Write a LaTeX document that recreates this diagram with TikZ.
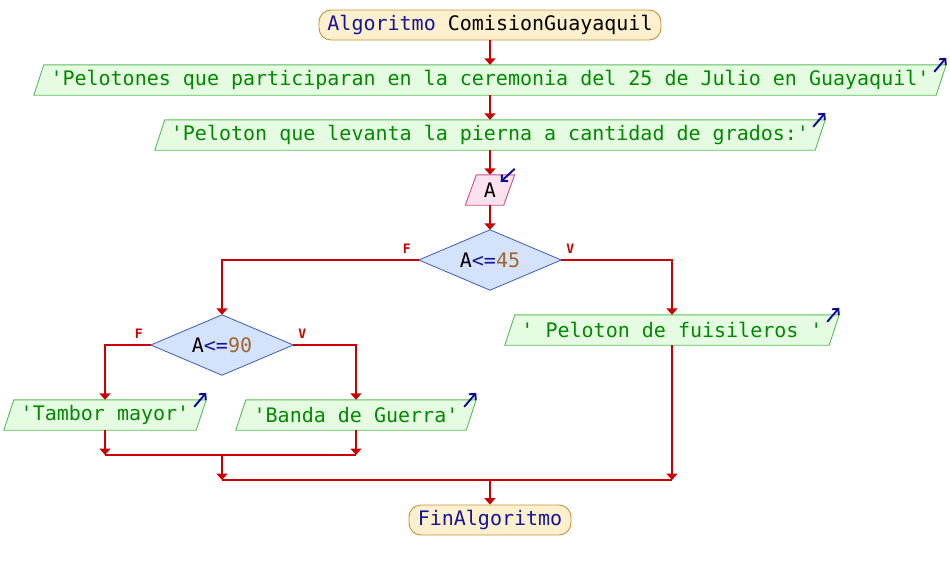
\documentclass[tikz,border=0pt]{standalone}
\usepackage{fontspec}
\newfontfamily\pmono{DejaVu Sans Mono}
\usetikzlibrary{arrows.meta,backgrounds,calc}
\definecolor{connc}{HTML}{CC0000}
\definecolor{outfill}{HTML}{E6FCE2}
\definecolor{outdraw}{HTML}{5CBB5C}
\definecolor{outtext}{HTML}{008A00}
\definecolor{termfill}{HTML}{FEF0CC}
\definecolor{termdraw}{HTML}{C8903C}
\definecolor{decfill}{HTML}{D4E2FB}
\definecolor{decdraw}{HTML}{3A5CC0}
\definecolor{infill}{HTML}{FCE2EE}
\definecolor{indraw}{HTML}{C8508A}
\definecolor{kwc}{HTML}{14149C}
\definecolor{numc}{HTML}{A0662C}
\definecolor{iconc}{HTML}{0A0A96}
\begin{document}
\begin{tikzpicture}[x=1pt,y=-1pt,
  txt/.style={font=\pmono\fontsize{20}{24}\selectfont, inner sep=0pt},
  term/.style={txt, draw=termdraw, fill=termfill, line width=0.9pt, rounded corners=12pt, minimum height=30pt},
  outp/.style={txt, text=outtext, minimum height=30pt},
  inp/.style={txt, text=black, minimum height=30pt},
  decis/.style={txt, text=black, minimum width=142pt, minimum height=60pt},
  outshape/.style={draw=outdraw, fill=outfill, line width=0.9pt},
  inshape/.style={draw=indraw, fill=infill, line width=0.9pt},
  decshape/.style={draw=decdraw, fill=decfill, line width=0.8pt},
  conn/.style={draw=connc, line width=2.2pt},
  arr/.style={conn, -{Triangle[width=11pt,length=6.5pt]}},
  icon/.style={draw=iconc, line width=1.9pt, -{Straight Barb[length=4.5pt,width=9pt]}},
  lbl/.style={font=\pmono\bfseries\fontsize{13}{13}\selectfont, text=connc, inner sep=0pt}]
\useasboundingbox (0,0) rectangle (950,570);

% nodes
\node[term, minimum width=342pt] (s) at (490,25) {\textcolor{kwc}{Algoritmo} ComisionGuayaquil};
\node[outp, minimum width=902pt] (o1) at (490,80) {'Pelotones que participaran en la ceremonia del 25 de Julio en Guayaquil'};
\node[outp, minimum width=660pt] (o2) at (490,135) {'Peloton que levanta la pierna a cantidad de grados:'};
\node[inp, minimum width=38pt] (in) at (490,190) {A};
\node[decis] (d1) at (490,260) {A\textcolor{kwc}{<=}\textcolor{numc}{45}};
\node[decis] (d2) at (222,345) {A\textcolor{kwc}{<=}\textcolor{numc}{90}};
\node[outp, minimum width=324pt] (o5) at (672,330) {' Peloton de fuisileros '};
\node[outp, minimum width=192pt] (o3) at (105,415) {'Tambor mayor'};
\node[outp, minimum width=230pt] (o4) at (356,415) {'Banda de Guerra'};
\node[term, minimum width=162pt, text=kwc] (f) at (490,520) {FinAlgoritmo};

% branch labels
\node[lbl] (f1) at ($(d1.west)+(-12,-11)$) {F};
\node[lbl] (v1) at ($(d1.east)+(9,-11)$) {V};
\node[lbl] (f2) at ($(d2.west)+(-12,-11)$) {F};
\node[lbl] (v2) at ($(d2.east)+(9,-11)$) {V};

% shapes on background
\begin{scope}[on background layer]
\foreach \n in {o1,o2,o3,o4,o5}{
  \draw[outshape] ([xshift=5pt]\n.north west) -- ([xshift=5pt]\n.north east) -- ([xshift=-5pt]\n.south east) -- ([xshift=-5pt]\n.south west) -- cycle;
}
\draw[inshape] ([xshift=5.5pt]in.north west) -- ([xshift=5.5pt]in.north east) -- ([xshift=-5.5pt]in.south east) -- ([xshift=-5.5pt]in.south west) -- cycle;
\foreach \n in {d1,d2}{
  \draw[decshape] (\n.west) -- (\n.north) -- (\n.east) -- (\n.south) -- cycle;
}
\end{scope}

% icons
\foreach \n in {o1,o2,o3,o4,o5}{
  \draw[icon] ($(\n.north east)+(-7,7)$) -- ($(\n.north east)+(5,-7)$);
}
\draw[icon] ($(in.north east)+(5.5,-6)$) -- ($(in.north east)+(-8.5,7)$);

% connectors
\coordinate (row1) at (0,455);
\coordinate (row2) at (0,480);
\coordinate (j1) at (o3.south |- row1);
\coordinate (j2) at (o4.south |- row1);
\coordinate (jm) at (d2.south |- row1);
\coordinate (jm2) at (d2.south |- row2);
\coordinate (j4) at (o5.south |- row2);
\coordinate (jf) at (f.north |- row2);

\draw[arr] (s.south) -- (o1.north);
\draw[arr] (o1.south) -- (o2.north);
\draw[arr] (o2.south) -- (in.north);
\draw[arr] (in.south) -- (d1.north);
\draw[arr] (d1.west) -| (d2.north);
\draw[arr] (d1.east) -| (o5.north);
\draw[arr] (d2.west) -| (o3.north);
\draw[arr] (d2.east) -| (o4.north);
\draw[arr] (o3.south) -- (j1);
\draw[arr] (o4.south) -- (j2);
\draw[conn] (j1) -- (j2);
\draw[arr] (jm) -- (jm2);
\draw[conn] (jm2) -- (j4);
\draw[arr] (o5.south) -- (j4);
\draw[arr] (jf) -- (f.north);
\end{tikzpicture}
\end{document}
